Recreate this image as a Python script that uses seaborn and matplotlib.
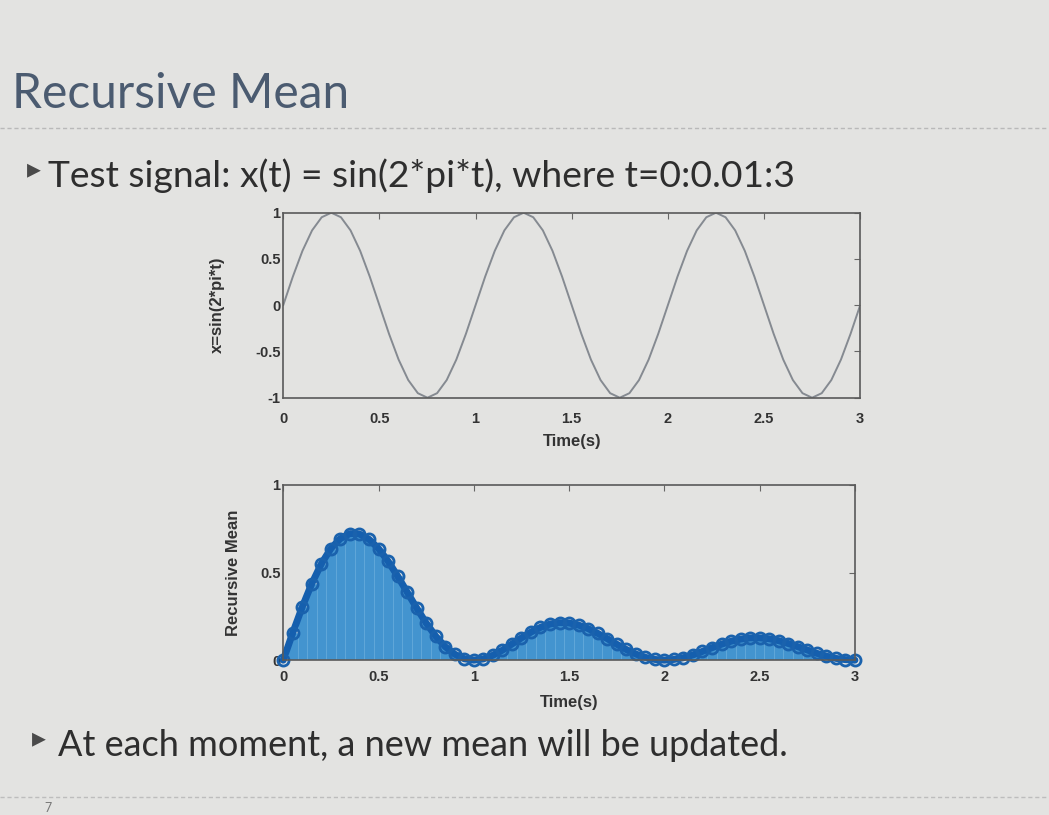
import numpy as np
import pandas as pd
import matplotlib.pyplot as plt
import seaborn as sns

sine_vals = [0, 0.309, 0.588, 0.809, 0.951, 1, 0.951, 0.809, 0.588, 0.309,
             0, -0.309, -0.588, -0.809, -0.951, -1, -0.951, -0.809, -0.588, -0.309,
             0, 0.309, 0.588, 0.809, 0.951, 1, 0.951, 0.809, 0.588, 0.309,
             0, -0.309, -0.588, -0.809, -0.951, -1, -0.951, -0.809, -0.588, -0.309,
             0, 0.309, 0.588, 0.809, 0.951, 1, 0.951, 0.809, 0.588, 0.309,
             0, -0.309, -0.588, -0.809, -0.951, -1, -0.951, -0.809, -0.588, -0.309,
             0]
mean_vals = [0, 0.156, 0.304, 0.437, 0.550, 0.637, 0.694, 0.722, 0.720, 0.690,
             0.637, 0.565, 0.480, 0.389, 0.298, 0.212, 0.137, 0.077, 0.034, 0.008,
             0, 0.007, 0.028, 0.057, 0.092, 0.127, 0.160, 0.187, 0.206, 0.214,
             0.212, 0.200, 0.180, 0.153, 0.123, 0.091, 0.061, 0.035, 0.016, 0.004,
             0, 0.004, 0.014, 0.030, 0.050, 0.071, 0.091, 0.108, 0.120, 0.127,
             0.127, 0.122, 0.111, 0.095, 0.077, 0.058, 0.039, 0.023, 0.010, 0.003,
             0]
time_s = np.round(np.arange(len(sine_vals)) * 0.05, 2)
x_ticks = [0, 0.5, 1, 1.5, 2, 2.5, 3]
x_ticklabels = ["0", "0.5", "1", "1.5", "2", "2.5", "3"]

title_text = "Recursive Mean"
bullet1 = "Test signal: x(t) = sin(2*pi*t), where t=0:0.01:3"
bullet2 = "At each moment, a new mean will be updated."

df = pd.DataFrame({"t": time_s, "x": sine_vals, "m": mean_vals})

sns.set_theme(style="white")
plt.rcParams["font.family"] = ["Lato", "DejaVu Sans"]

bg = "#e3e3e1"
fig = plt.figure(figsize=(10.49, 8.15), dpi=100, facecolor=bg)

# slide text
fig.text(0.011, 0.868, title_text, fontsize=34.5, color="#4b5b70", va="baseline")
fig.add_artist(plt.Line2D([0, 1], [0.843, 0.843], color="#b9b9b9", lw=1, ls=(0, (3, 2))))
fig.text(0.026, 0.782, "\u25b8", fontsize=20, color="#4a4a4a", va="baseline",
         family=["DejaVu Sans"])
fig.text(0.046, 0.770, bullet1, fontsize=26.8, color="#2e2e2e", va="baseline")
fig.text(0.030, 0.084, "\u25b8", fontsize=20, color="#4a4a4a", va="baseline",
         family=["DejaVu Sans"])
fig.text(0.055, 0.072, bullet2, fontsize=26, color="#2e2e2e", va="baseline")
fig.add_artist(plt.Line2D([0, 1], [0.022, 0.022], color="#bdbdbd", lw=1, ls=(0, (3, 2))))
fig.text(0.042, 0.001, "7", fontsize=9, color="#777777", va="bottom")

axis_font = ["Liberation Sans", "DejaVu Sans"]
tick_kw = dict(direction="in", length=4, width=0.8, color="#666666",
               labelsize=10.5, labelcolor="#333333")


def style_axes(ax, yticks, ylabel, ylabelpad, xpad, xlabelpad):
    ax.set_facecolor(bg)
    ax.set_xlim(0, 3)
    ax.set_xticks(x_ticks, x_ticklabels, fontweight="bold", family=axis_font)
    ax.set_yticks(yticks, [f"{v:g}" for v in yticks], fontweight="bold", family=axis_font)
    ax.tick_params(axis="both", **tick_kw, top=True, right=True)
    ax.tick_params(axis="x", pad=xpad)
    ax.tick_params(axis="y", pad=2)
    ax.set_xlabel("Time(s)", fontsize=12, fontweight="bold", color="#333333",
                  labelpad=xlabelpad, family=axis_font)
    ax.set_ylabel(ylabel, fontsize=12, fontweight="bold", color="#333333",
                  labelpad=ylabelpad, family=axis_font)
    for s in ax.spines.values():
        s.set_color("#5a5a5a")
        s.set_linewidth(1.2)


# top: test signal
ax1 = fig.add_axes([0.270, 0.512, 0.550, 0.227])
sns.lineplot(data=df, x="t", y="x", ax=ax1, color="#858a91", lw=1.4)
ax1.set_ylim(-1, 1)
style_axes(ax1, [-1, -0.5, 0, 0.5, 1], "x=sin(2*pi*t)", 22, 10, 6)

# bottom: recursive mean as filled stems with circle markers
ax2 = fig.add_axes([0.270, 0.190, 0.545, 0.215])
sns.barplot(data=df, x="t", y="m", ax=ax2, native_scale=True, width=1.0,
            color="#4394cf", saturation=1, edgecolor="#62a8da", linewidth=0.6)
sns.lineplot(data=df, x="t", y="m", ax=ax2, color="#155fae", lw=5,
             marker="o", markersize=8, markerfacecolor="none",
             markeredgecolor="#1a62ad", markeredgewidth=2, clip_on=False)
ax2.set_ylim(0, 1)
style_axes(ax2, [0, 0.5, 1], "Recursive Mean", 14, 7, 8)

fig.savefig("out.png", dpi=100, facecolor=bg)
